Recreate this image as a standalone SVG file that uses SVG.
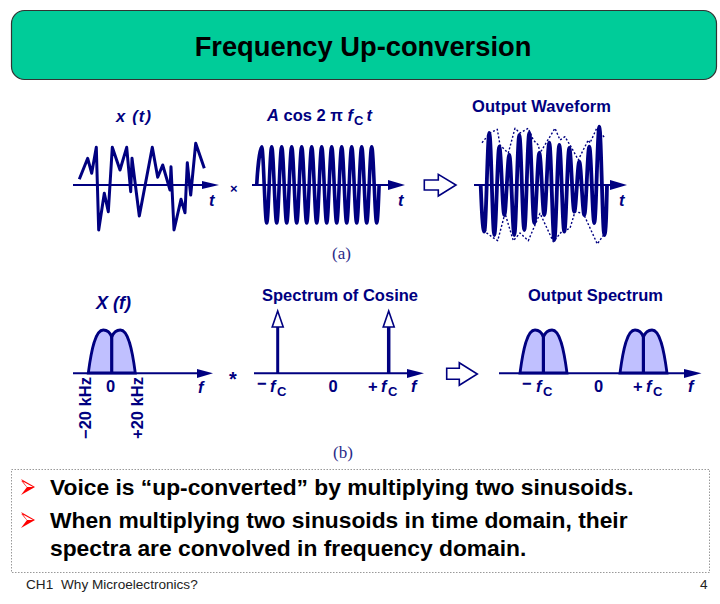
<svg xmlns="http://www.w3.org/2000/svg" width="720" height="604" viewBox="0 0 720 604">
<defs>
<style>
text{font-family:"Liberation Sans",Arial,sans-serif}
.l{fill:#000080;font-weight:bold;font-size:16.5px}
.i{font-style:italic}
.s{font-size:13px}
.ax{stroke:#000080;stroke-width:2;fill:none}
.head{fill:#000080;stroke:none}
.w{stroke:#000080;fill:none;stroke-linejoin:round}
.hump{fill:#c0c0ff;stroke:#000080;stroke-width:2.8}
.mid{stroke:#000080;stroke-width:3.2}
.hollow{fill:#fff;stroke:#000080;stroke-width:1.6}
.b{font-weight:bold;font-size:22.8px;fill:#000}
.foot{font-size:13.6px;fill:#222}
.cap{font-family:"Liberation Serif",serif;font-size:17px;fill:#2a2a88}
</style>
<g id="hump"><path class="hump" d="M0,43 C3,20 7,0 15,0 C20,0 22,3 23.4,7 C25,3 27,0 32,0 C40,0 44,20 47,43 Z"/><path class="mid" d="M23.4,6 V43"/></g>
</defs>
<rect width="720" height="604" fill="#fff"/>
<g id="title"><rect x="11.5" y="10.5" width="705" height="69" rx="13" fill="#00cc99" stroke="#333" stroke-width="1.2"/>
<text x="363" y="56" text-anchor="middle" font-weight="bold" font-size="27.3" fill="#000">Frequency Up-conversion</text></g>

<g id="input-signal">
<path class="w" stroke-width="3" d="M79.3,179.3 87.7,158.3 91.7,173.3 96.3,147.3 98.7,230 104.3,193.3 108.3,211.7 112.3,147.3 120,170 126.7,147.3 130.7,191.7 132,158.3 139.3,216 152.3,147.3 157.7,177.3 162.7,165 170,190 171,166.7 174,230 181,199.3 185,212.7 187.3,162.7 190.7,195 195.7,143.3 204.3,168.3"/>
<path class="ax" d="M73,185H205"/><path class="head" d="M202,181 219,185 202,189Z"/>
<text class="l i" x="116" y="122" letter-spacing="1.2">x (t)</text>
<text class="l i" x="209" y="206">t</text>
<text class="l" x="230" y="193" style="font-size:13px">×</text>
</g>

<g id="carrier">
<path class="w" stroke-width="3.6" d="M256.7,185 C257.5,170 260,146.7 261.7,146.7 c1.8,0 3.2,76.3 5,76.3 c1.8,0 3.2,-76.3 5,-76.3 c1.8,0 3.2,76.3 5,76.3 c1.8,0 3.2,-76.3 5,-76.3 c1.8,0 3.2,76.3 5,76.3 c1.8,0 3.2,-76.3 5,-76.3 c1.8,0 3.2,76.3 5,76.3 c1.8,0 3.2,-76.3 5,-76.3 c1.8,0 3.2,76.3 5,76.3 c1.8,0 3.2,-76.3 5,-76.3 c1.8,0 3.2,76.3 5,76.3 c1.8,0 3.2,-76.3 5,-76.3 c1.8,0 3.2,76.3 5,76.3 c1.8,0 3.2,-76.3 5,-76.3 c1.8,0 3.2,76.3 5,76.3 c1.8,0 3.2,-76.3 5,-76.3 c1.8,0 3.2,76.3 5,76.3 c1.8,0 3.2,-76.3 5,-76.3 c1.8,0 3.2,76.3 5,76.3 c1.8,0 3.2,-76.3 5,-76.3 c1.8,0 3.2,76.3 5,76.3 c1.8,0 3.2,-76.3 5,-76.3 c1.8,0 3.2,76.3 5,76.3 c1,0 1.8,-20 2.4,-38"/>
<path class="ax" d="M252,185H392"/><path class="head" d="M388,180 405,185 388,190Z"/>
<text class="l" x="267" y="121"><tspan class="i">A</tspan> cos 2 π <tspan class="i">f</tspan><tspan class="s" dx="1" dy="4">C</tspan><tspan class="i" dx="3" dy="-4">t</tspan></text>
<text class="l i" x="398" y="206">t</text>
</g>

<g id="arrow-a"><path class="hollow" d="M424.3,180H438.3V174.3L456,185 438.3,196V190H424.3Z"/></g>

<g id="output-waveform">
<path class="w" stroke-width="1.4" stroke-dasharray="2 2" d="M482,142.7 490,133 497.3,129.3 500,145 505,150 508.3,153 515,128.3 520,133 528.3,128.3 533.3,140 538.3,145 540,153 555,128.3 560,140 565,136.7 571.7,148 578.3,160 581.7,153 588.3,140 590,143 596.7,128.3 605,138"/>
<path class="w" stroke-width="1.4" stroke-dasharray="2 2" d="M482,221.7 486.7,233 491.7,236.7 497.7,240.7 505,213.3 513.3,240.7 520,233 528.3,240.7 540,213.3 553.3,241.7 561.7,231.7 570,228.3 575,211.7 583.3,213.3 597.3,244 605,233"/>
<path class="w" stroke-width="3.8" d="M480.7,185 C481.5,205 482.5,231.7 484.3,231.7 C486.1,231.7 487.5,133 489.3,133 S492.5,235 494.3,235 S497.5,146.7 499.3,146.7 S502.5,215 504.3,215 S507.5,155 509.3,155 S512.5,235 514.3,235 S517.5,135 519.3,135 S522.5,230 524.3,230 S527.5,133 529.3,133 S532.5,223 534.3,223 S537.5,153 539.3,153 S542.5,215 544.3,215 S547.5,142.7 549.3,142.7 S552.5,240 554.3,240 S557.5,145 559.3,145 S562.5,231.7 564.3,231.7 S567.5,148 569.3,148 S572.5,211.7 574.3,211.7 S577.5,161.7 579.3,161.7 S582.5,215 584.3,215 S587.5,146.7 589.3,146.7 S592.5,223 594.3,223 S597.5,126.7 599.3,126.7 S602.5,235 604.3,235 S606.5,205 607,185"/>
<path class="ax" d="M474,185H614"/><path class="head" d="M610,180 627,185 610,190Z"/>
<text class="l" x="472" y="112" textLength="139">Output Waveform</text>
<text class="l i" x="619" y="206">t</text>
</g>

<text class="cap" x="341.5" y="259" text-anchor="middle">(a)</text>

<g id="input-spectrum">
<use href="#hump" x="88.3" y="330"/>
<path class="ax" d="M73,373.3H200"/><path class="head" d="M197,369 213,373.3 197,378Z"/>
<text class="l i" x="96" y="309" style="font-size:18px">X (f)</text>
<text class="l" x="106" y="392">0</text>
<text class="l i" x="198" y="393">f</text>
<text class="l" transform="translate(91 439) rotate(-90)">−20 kHz</text>
<text class="l" transform="translate(143 439) rotate(-90)">+20 kHz</text>
<text class="l" x="229" y="386" style="font-size:20px">*</text>
</g>

<g id="cosine-spectrum">
<path class="ax" d="M254,373.3H410"/><path class="head" d="M407,369 424,373.3 407,378Z"/>
<path class="w" stroke-width="3" d="M277.7,373V326"/><path class="w" stroke-width="3.5" d="M388.7,373V326"/>
<path class="hollow" d="M277.7,311 283.2,327H272.2Z"/><path class="hollow" d="M388.7,311 394.2,327H383.2Z"/>
<text class="l" x="262" y="301" textLength="156">Spectrum of Cosine</text>
<text class="l" x="257" y="389">−</text><text class="l i" x="270" y="392">f</text><text class="l s" x="277" y="396">C</text>
<text class="l" x="328.5" y="392">0</text>
<text class="l" x="368" y="392">+</text><text class="l i" x="381" y="392">f</text><text class="l s" x="388" y="396">C</text>
<text class="l i" x="411" y="392">f</text>
</g>

<g id="arrow-b"><path class="hollow" d="M446.7,368.3H459.3V362.7L477.3,374 459.3,385.3V379.3H446.7Z"/></g>

<g id="output-spectrum">
<use href="#hump" x="520" y="330"/><use href="#hump" x="620" y="330"/>
<path class="ax" d="M499,373.3H688"/><path class="head" d="M684,369 701.5,373.3 684,378Z"/>
<text class="l" x="528" y="301" textLength="135">Output Spectrum</text>
<text class="l" x="522" y="389">−</text><text class="l i" x="536" y="392">f</text><text class="l s" x="543" y="396">C</text>
<text class="l" x="594" y="392">0</text>
<text class="l" x="633" y="392">+</text><text class="l i" x="646" y="392">f</text><text class="l s" x="653" y="396">C</text>
<text class="l i" x="688" y="392">f</text>
</g>

<text class="cap" x="343" y="458" text-anchor="middle">(b)</text>

<g id="notes">
<rect x="11.5" y="469.5" width="698" height="103" fill="#fff" stroke="#999" stroke-dasharray="1.5 1.5"/>
<path fill="#f00" d="M21,479 35,487 21,495 27,487ZM21,480.5 26.5,487 33,487Z" fill-rule="evenodd"/>
<path fill="#f00" d="M21,512 35,520 21,528 27,520ZM21,513.5 26.5,520 33,520Z" fill-rule="evenodd"/>
<text class="b" x="50" y="495">Voice is “up-converted” by multiplying two sinusoids.</text>
<text class="b" x="50" y="528">When multiplying two sinusoids in time domain, their</text>
<text class="b" x="50" y="556">spectra are convolved in frequency domain.</text>
</g>
<g id="footer">
<text class="foot" x="26" y="589">CH1</text><text class="foot" x="61" y="589">Why Microelectronics?</text>
<text class="foot" x="700" y="589">4</text>
</g>
</svg>
